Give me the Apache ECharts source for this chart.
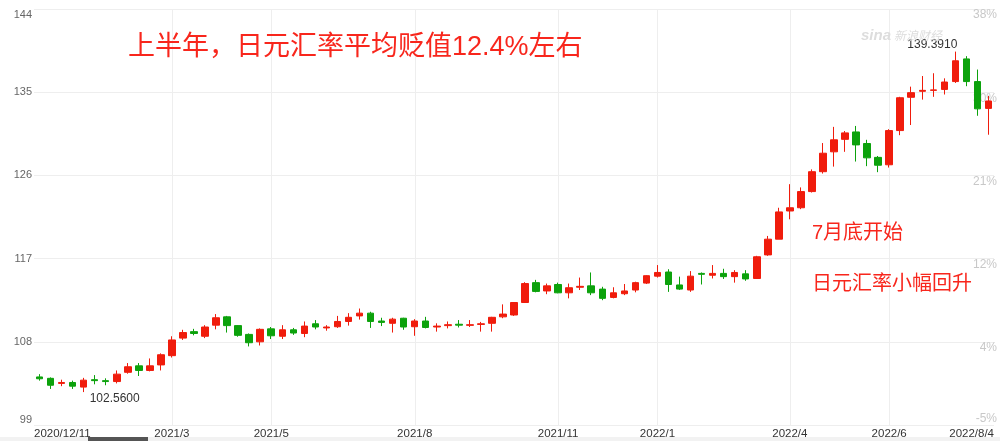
<!DOCTYPE html>
<html>
<head>
<meta charset="utf-8">
<script src="https://cdn.jsdelivr.net/npm/echarts@6/dist/echarts.min.js"></script>
<style>
  html, body { margin: 0; padding: 0; background: #fff; }
  #main { width: 1000px; height: 441px; }
</style>
</head>
<body>
<div id="main"></div>
<script>
// 周K线：美元兑日元
const dates = [
    '2020/12/11', '2020/12/18', '2020/12/25',
    '2021/1/1', '2021/1/8', '2021/1/15', '2021/1/22', '2021/1/29',
    '2021/2/5', '2021/2/12', '2021/2/19', '2021/2/26',
    '2021/3/5', '2021/3/12', '2021/3/19', '2021/3/26',
    '2021/4/2', '2021/4/9', '2021/4/16', '2021/4/23', '2021/4/30',
    '2021/5/7', '2021/5/14', '2021/5/21', '2021/5/28',
    '2021/6/4', '2021/6/11', '2021/6/18', '2021/6/25',
    '2021/7/2', '2021/7/9', '2021/7/16', '2021/7/23', '2021/7/30',
    '2021/8/6', '2021/8/13', '2021/8/20', '2021/8/27',
    '2021/9/3', '2021/9/10', '2021/9/17', '2021/9/24',
    '2021/10/1', '2021/10/8', '2021/10/15', '2021/10/22', '2021/10/29',
    '2021/11/5', '2021/11/12', '2021/11/19', '2021/11/26',
    '2021/12/3', '2021/12/10', '2021/12/17', '2021/12/24', '2021/12/31',
    '2022/1/7', '2022/1/14', '2022/1/21', '2022/1/28',
    '2022/2/4', '2022/2/11', '2022/2/18', '2022/2/25',
    '2022/3/4', '2022/3/11', '2022/3/18', '2022/3/25',
    '2022/4/1', '2022/4/8', '2022/4/15', '2022/4/22', '2022/4/29',
    '2022/5/6', '2022/5/13', '2022/5/20', '2022/5/27',
    '2022/6/3', '2022/6/10', '2022/6/17', '2022/6/24',
    '2022/7/1', '2022/7/8', '2022/7/15', '2022/7/22', '2022/7/29',
    '2022/8/4'
];

const opens = [
    104.2, 104.05, 103.5, 103.6, 103.1, 103.9, 103.8, 103.7, 104.7, 105.4,
    104.9, 105.5, 106.5, 108.4, 109.1, 108.6, 109.8, 110.7, 109.75, 108.8,
    108.0, 109.4, 108.6, 109.3, 108.9, 109.95, 109.5, 109.63, 110.2, 110.8,
    111.1, 110.25, 110.0, 110.55, 109.63, 110.25, 109.6, 109.75, 109.9, 109.78,
    109.88, 110.0, 110.7, 110.9, 112.25, 114.4, 113.5, 114.2, 113.3, 113.9,
    114.05, 113.7, 112.8, 113.2, 113.6, 114.35, 115.1, 115.55, 114.15, 113.6,
    115.4, 115.2, 115.4, 115.05, 115.35, 114.85, 117.4, 119.1, 122.15, 122.5,
    124.25, 126.4, 128.55, 129.9, 130.7, 129.45, 127.95, 127.15, 130.85, 134.45,
    135.1, 135.2, 135.3, 136.15, 138.6, 136.15, 133.25
];
const closes = [
    104.0, 103.3, 103.6, 103.2, 103.85, 103.8, 103.7, 104.5, 105.3, 104.9,
    105.4, 106.6, 108.2, 109.0, 108.9, 109.6, 110.6, 109.75, 108.7, 107.9,
    109.35, 108.65, 109.3, 108.95, 109.7, 109.6, 109.6, 110.2, 110.65, 111.1,
    110.2, 110.1, 110.45, 109.6, 110.25, 109.55, 109.7, 109.85, 109.8, 109.85,
    109.95, 110.65, 111.0, 112.25, 114.3, 113.45, 114.05, 113.3, 113.85, 114.0,
    113.3, 112.7, 113.3, 113.5, 114.4, 115.15, 115.5, 114.2, 113.7, 115.1,
    115.3, 115.4, 115.05, 115.5, 114.8, 117.2, 119.1, 122.05, 122.5, 124.25,
    126.4, 128.4, 129.85, 130.6, 129.3, 127.9, 127.1, 130.85, 134.4, 134.95,
    135.2, 135.25, 136.1, 138.4, 136.15, 133.2, 134.05
];
const lows = [
    103.8, 102.9, 103.2, 102.9, 102.56, 103.4, 103.3, 103.5, 104.55, 104.3,
    104.8, 104.9, 106.3, 108.2, 108.7, 108.4, 109.35, 109.0, 108.55, 107.5,
    107.6, 108.3, 108.3, 108.75, 108.5, 109.35, 109.2, 109.5, 109.75, 110.4,
    109.5, 109.7, 109.0, 109.3, 108.65, 109.45, 109.1, 109.45, 109.55, 109.6,
    109.1, 109.1, 110.55, 110.8, 112.2, 113.35, 113.15, 113.25, 112.7, 113.6,
    113.05, 112.5, 112.7, 113.05, 113.35, 114.25, 114.95, 113.4, 113.6, 113.4,
    114.2, 114.85, 114.8, 114.4, 114.6, 114.8, 117.3, 119.1, 121.25, 122.35,
    124.15, 126.2, 126.95, 128.55, 127.5, 127.0, 126.35, 126.85, 130.35, 131.45,
    134.2, 134.5, 134.75, 136.0, 135.65, 132.45, 130.4
];
const highs = [
    104.5, 104.15, 103.9, 103.8, 104.1, 104.4, 104.05, 104.9, 105.7, 105.7,
    106.2, 106.75, 108.6, 109.3, 109.4, 109.8, 111.0, 110.8, 109.8, 108.9,
    109.45, 109.6, 109.8, 109.5, 110.2, 110.35, 109.8, 110.8, 111.1, 111.6,
    111.25, 110.6, 110.6, 110.6, 110.45, 110.7, 110.0, 110.2, 110.35, 110.35,
    110.15, 110.7, 112.05, 112.3, 114.45, 114.7, 114.3, 114.4, 114.3, 114.95,
    115.5, 113.95, 113.9, 114.25, 114.5, 115.2, 116.3, 115.85, 115.05, 115.65,
    115.5, 116.3, 115.9, 115.75, 115.75, 117.3, 119.45, 122.5, 125.05, 124.7,
    126.65, 129.5, 131.25, 130.8, 131.35, 129.85, 128.1, 131.0, 134.5, 135.6,
    136.75, 137.05, 136.5, 139.391, 138.9, 137.45, 134.6
];

// 横轴只显示这些日期
const tickLabels = {
    '2020/12/11': '2020/12/11',
    '2021/3/5': '2021/3',
    '2021/5/7': '2021/5',
    '2021/8/6': '2021/8',
    '2021/11/5': '2021/11',
    '2022/1/7': '2022/1',
    '2022/4/1': '2022/4',
    '2022/6/3': '2022/6',
    '2022/8/4': '2022/8/4'
};

const yMin = 99, yMax = 144, yStep = 9;
const basePrice = 104.1;   // 右轴涨跌幅的基准
const highMark = { date: '2022/7/15', value: 139.391, text: '139.3910' };
const lowMark = { date: '2021/1/8', value: 102.56, text: '102.5600' };

const upColor = '#f01c0c';
const downColor = '#0ca20c';
const gridColor = '#eeeeee';
const noteColor = '#f8261c';
const xLabelFont = '11.5px "Liberation Sans"';

const firstDate = dates[0];
const lastDate = dates[dates.length - 1];

const kData = dates.map(function(d, i) {
    return [opens[i], closes[i], lows[i], highs[i]];
});

var chart = echarts.init(document.getElementById('main'));

var option = {
    animation: false,
    grid: { left: 34, right: 6, top: 9, bottom: 16 },
    xAxis: {
        type: 'category',
        data: dates,
        boundaryGap: true,
        axisLine: { show: false },
        axisTick: { show: false },
        splitLine: { show: false },
        axisLabel: {
            // 首尾两个日期贴着边框画，放到下面的 graphic 里
            interval: function(idx, val) {
                return tickLabels[val] !== undefined && val !== firstDate && val !== lastDate;
            },
            formatter: function(val) { return tickLabels[val] || ''; },
            color: '#333',
            fontSize: 11.5,
            fontFamily: 'Liberation Sans',
            margin: 3
        }
    },
    yAxis: [{
        type: 'value',
        position: 'left',
        min: yMin,
        max: yMax,
        interval: yStep,
        axisLine: { show: false },
        axisTick: { show: false },
        splitLine: { lineStyle: { color: gridColor, width: 1 } },
        axisLabel: {
            color: '#666',
            fontSize: 11,
            fontFamily: 'Liberation Sans',
            margin: 2,
            verticalAlignMinLabel: 'bottom',
            verticalAlignMaxLabel: 'top'
        }
    }, {
        type: 'value',
        position: 'right',
        min: yMin,
        max: yMax,
        interval: yStep,
        axisLine: { show: false },
        axisTick: { show: false },
        splitLine: { show: false },
        axisLabel: {
            inside: true,
            margin: -3,
            color: '#c8c8c8',
            fontSize: 12,
            fontFamily: 'Liberation Sans',
            verticalAlign: 'top',
            verticalAlignMinLabel: 'bottom',
            formatter: function(v) {
                return Math.round((v / basePrice - 1) * 100) + '%';
            }
        }
    }],
    series: [{
        type: 'candlestick',
        data: kData,
        barWidth: 7,
        z: 3,
        itemStyle: {
            color: upColor,
            color0: downColor,
            borderColor: upColor,
            borderColor0: downColor,
            borderWidth: 1
        }
    }]
};

chart.setOption(option);

// 竖向网格线、最高最低价标注、文字说明
var yTop = chart.convertToPixel({ yAxisIndex: 0 }, yMax);
var yBottom = chart.convertToPixel({ yAxisIndex: 0 }, yMin);
var halfBand = (chart.convertToPixel({ xAxisIndex: 0 }, 1) - chart.convertToPixel({ xAxisIndex: 0 }, 0)) / 2;
var graphics = [];

Object.keys(tickLabels).forEach(function(d) {
    var idx = dates.indexOf(d);
    if (idx <= 0 || idx === dates.length - 1) return;
    var x = Math.round(chart.convertToPixel({ xAxisIndex: 0 }, idx)) + 0.5;
    graphics.push({
        type: 'line',
        silent: true,
        z: -10,
        shape: { x1: x, y1: yTop, x2: x, y2: yBottom },
        style: { stroke: gridColor, lineWidth: 1 }
    });
});

// 首尾日期
graphics.push({
    type: 'text',
    x: chart.convertToPixel({ xAxisIndex: 0 }, 0) - halfBand,
    y: yBottom + 3,
    style: {
        text: tickLabels[firstDate],
        fill: '#333',
        font: xLabelFont,
        align: 'left',
        verticalAlign: 'top'
    }
});
graphics.push({
    type: 'text',
    x: chart.convertToPixel({ xAxisIndex: 0 }, dates.length - 1) + halfBand,
    y: yBottom + 3,
    style: {
        text: tickLabels[lastDate],
        fill: '#333',
        font: xLabelFont,
        align: 'right',
        verticalAlign: 'top'
    }
});

var hp = chart.convertToPixel({ xAxisIndex: 0, yAxisIndex: 0 }, [dates.indexOf(highMark.date), highMark.value]);
var lp = chart.convertToPixel({ xAxisIndex: 0, yAxisIndex: 0 }, [dates.indexOf(lowMark.date), lowMark.value]);

graphics.push({
    type: 'text',
    x: hp[0] + 2,
    y: hp[1] - 1,
    style: {
        text: highMark.text,
        fill: '#333',
        font: '12px "Liberation Sans"',
        align: 'right',
        verticalAlign: 'bottom'
    }
});
graphics.push({
    type: 'text',
    x: lp[0] + 6,
    y: lp[1] + 1,
    style: {
        text: lowMark.text,
        fill: '#333',
        font: '12px "Liberation Sans"',
        align: 'left',
        verticalAlign: 'top'
    }
});

// 新浪财经水印
graphics.push({
    type: 'text',
    x: 861,
    y: 36,
    style: {
        text: 'sina',
        fill: '#dddddd',
        font: 'italic bold 15px "Liberation Sans"',
        verticalAlign: 'middle'
    }
});
graphics.push({
    type: 'text',
    x: 894,
    y: 35,
    style: {
        text: '新浪财经',
        fill: '#dddddd',
        font: 'italic 12px "Noto Sans CJK SC"',
        verticalAlign: 'middle'
    }
});

graphics.push({
    type: 'text',
    x: 128,
    y: 48,
    style: {
        text: '上半年，日元汇率平均贬值12.4%左右',
        fill: noteColor,
        font: '27px "Liberation Sans", "Noto Sans CJK SC"',
        verticalAlign: 'middle'
    }
});
graphics.push({
    type: 'text',
    x: 812,
    y: 233,
    style: {
        text: '7月底开始',
        fill: noteColor,
        font: '20px "Liberation Sans", "Noto Sans CJK SC"',
        verticalAlign: 'middle'
    }
});
graphics.push({
    type: 'text',
    x: 812,
    y: 284,
    style: {
        text: '日元汇率小幅回升',
        fill: noteColor,
        font: '20px "Liberation Sans", "Noto Sans CJK SC"',
        verticalAlign: 'middle'
    }
});

// 底部被裁掉的滚动条
graphics.push({
    type: 'rect',
    silent: true,
    shape: { x: 0, y: 437, width: 1000, height: 4 },
    style: { fill: '#f2f2f2' }
});
graphics.push({
    type: 'rect',
    silent: true,
    shape: { x: 88, y: 437, width: 60, height: 4 },
    style: { fill: '#555' }
});

chart.setOption({ graphic: graphics });

window.addEventListener('resize', function() {
    chart.resize();
});
</script>
</body>
</html>
